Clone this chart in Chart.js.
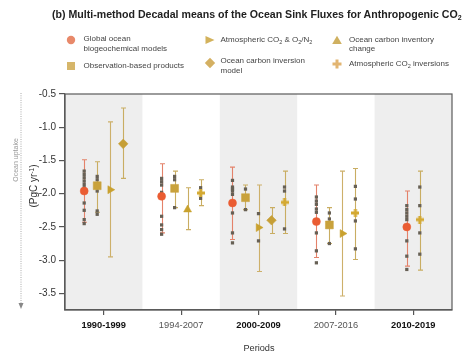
<!DOCTYPE html>
<html><head><meta charset="utf-8">
<script src="https://cdn.jsdelivr.net/npm/chart.js@4.4.1/dist/chart.umd.min.js"></script>
<style>
html,body{margin:0;padding:0;background:#fff;}
#wrap{position:relative;width:474px;height:357px;font-family:"Liberation Sans",Arial,sans-serif;overflow:hidden;}
#c{position:absolute;left:0;top:0;}
.t{position:absolute;white-space:nowrap;color:#333;}
.lg{position:absolute;white-space:nowrap;font-size:8px;line-height:9.5px;color:#444;}
.lg sub{font-size:5.5px;vertical-align:-1.5px;line-height:0;}
.mk{position:absolute;width:12px;height:12px;}
.rot{position:absolute;white-space:nowrap;transform:translate(-50%,-50%) rotate(-90deg);}
</style></head><body>
<div id="wrap">
<canvas id="c" width="474" height="357"></canvas>
<div class="t" style="left:52px;top:8px;font-weight:bold;font-size:10.6px;color:#222;">(b) Multi-method Decadal means of the Ocean Sink Fluxes for Anthropogenic CO<sub style="font-size:7px;vertical-align:-2px;line-height:0;">2</sub></div>

<svg class="mk" style="left:65px;top:34px" viewBox="0 0 12 12"><circle cx="6" cy="6" r="4.2" fill="#e8896a"/></svg>
<div class="lg" style="left:83.5px;top:34.3px">Global ocean<br>biogeochemical models</div>
<svg class="mk" style="left:65px;top:59.7px" viewBox="0 0 12 12"><rect x="2" y="2" width="8" height="8" fill="#d6b66a"/></svg>
<div class="lg" style="left:83.5px;top:61px">Observation-based products</div>

<svg class="mk" style="left:204px;top:34px" viewBox="0 0 12 12"><polygon points="1.5,2 10.5,6 1.5,10" fill="#d3b25c"/></svg>
<div class="lg" style="left:220.5px;top:35.3px">Atmospheric CO<sub>2</sub> &amp; O<sub>2</sub>/N<sub>2</sub></div>
<svg class="mk" style="left:204px;top:56.7px" viewBox="0 0 12 12"><polygon points="6,0.8 11.2,6 6,11.2 0.8,6" fill="#d4b062"/></svg>
<div class="lg" style="left:220.5px;top:56px">Ocean carbon inversion<br>model</div>

<svg class="mk" style="left:331.3px;top:34px" viewBox="0 0 12 12"><polygon points="6,1.8 10.8,10 1.2,10" fill="#cfb060"/></svg>
<div class="lg" style="left:349px;top:34.6px">Ocean carbon inventory<br>change</div>
<svg class="mk" style="left:331px;top:58px" viewBox="0 0 12 12"><path d="M4.5 1.5h3v3h3v3h-3v3h-3v-3h-3v-3h3z" fill="#e2b572"/></svg>
<div class="lg" style="left:349px;top:59.3px">Atmospheric CO<sub>2</sub> inversions</div>

<svg style="position:absolute;left:15px;top:90px;width:12px;height:225px" viewBox="0 0 12 225">
<line x1="6" y1="3" x2="6" y2="214" stroke="#aaa" stroke-width="1" stroke-dasharray="1,1.3"/>
<polygon points="3.5,213 8.5,213 6,219" fill="#888"/>
</svg>
<div class="rot" style="left:14.5px;top:160px;font-size:7px;color:#999;">Ocean uptake</div>
<div class="rot" style="left:33px;top:186px;font-size:10px;color:#333;">(PgC yr<sup style="font-size:6.5px;vertical-align:3px;line-height:0;">-1</sup>)</div>
<div class="t" style="left:259px;top:348px;transform:translate(-50%,-50%);font-size:9.2px;color:#333;">Periods</div>
</div>

<script>
// ---------------- DATA ----------------
const periods = ['1990-1999', '1994-2007', '2000-2009', '2007-2016', '2010-2019'];
const yTicks = [-0.5, -1.0, -1.5, -2.0, -2.5, -3.0, -3.5];

// Global ocean biogeochemical models
const gobmMean = [-1.96, -2.04, -2.14, -2.42, -2.50];
const gobmLow  = [-2.43, -2.59, -2.69, -2.96, -3.09];
const gobmHigh = [-1.49, -1.55, -1.60, -1.87, -1.96];
const gobmMembers = [
  [-1.66, -1.71, -1.76, -1.81, -1.86, -1.91, -2.14, -2.25, -2.39, -2.45],
  [-1.77, -1.82, -1.87, -1.98, -2.34, -2.47, -2.54, -2.61],
  [-1.80, -1.90, -1.93, -1.96, -2.01, -2.29, -2.59, -2.74],
  [-2.05, -2.11, -2.16, -2.23, -2.28, -2.59, -2.86, -3.04],
  [-2.18, -2.24, -2.29, -2.34, -2.39, -2.71, -2.94, -3.14]
];
// Observation-based products
const obsMean = [-1.88, -1.92, -2.06, -2.47, null];
const obsLow  = [-2.28, -2.21, -2.24, -2.75, null];
const obsHigh = [-1.52, -1.66, -1.87, -2.21, null];
const obsMembers = [
  [-1.74, -1.79, -1.96, -2.26, -2.31],
  [-1.74, -1.79, -2.21],
  [-1.93, -2.24],
  [-2.29, -2.38, -2.75],
  []
];
// Atmospheric CO2 & O2/N2
const o2Mean = [-1.94, null, -2.51, -2.60, null];
const o2Low  = [-2.95, null, -3.17, -3.54, null];
const o2High = [-0.92, null, -1.87, -1.66, null];
const o2Members = [[], [], [-2.30, -2.71], [], []];
// Ocean carbon inversion model
const invModelMean = [-1.25, null, -2.40, null, null];
const invModelLow  = [-1.77, null, -2.60, null, null];
const invModelHigh = [-0.71, null, -2.21, null, null];
// Ocean carbon inventory change
const inventoryMean = [null, -2.24, null, null, null];
const inventoryLow  = [null, -2.54, null, null, null];
const inventoryHigh = [null, -1.91, null, null, null];
// Atmospheric CO2 inversions
const atmInvMean = [null, -1.99, -2.13, -2.29, -2.39];
const atmInvLow  = [null, -2.18, -2.60, -2.99, -3.15];
const atmInvHigh = [null, -1.79, -1.66, -1.62, -1.66];
const atmInvMembers = [
  [],
  [-1.91, -2.07],
  [-1.90, -1.96, -2.53],
  [-1.89, -2.08, -2.41, -2.83],
  [-1.90, -2.18, -2.59, -2.91]
];

// ---------------- STYLES ----------------
function plusImg(size, th, color) {
  const c = document.createElement('canvas');
  c.width = size; c.height = size;
  const g = c.getContext('2d');
  g.fillStyle = color;
  const m = (size - th) / 2;
  g.fillRect(m, 0, th, size);
  g.fillRect(0, m, size, th);
  return c;
}
const methods = [
  {name: 'GOBM', mean: gobmMean, low: gobmLow, high: gobmHigh, members: gobmMembers,
   color: '#ea5c32', bar: '#e4826a', style: 'circle', radius: 4, rot: 0},
  {name: 'Obs', mean: obsMean, low: obsLow, high: obsHigh, members: obsMembers,
   color: '#c9a23c', bar: '#c9ad62', style: 'rect', radius: 5.6, rot: 0},
  {name: 'O2', mean: o2Mean, low: o2Low, high: o2High, members: o2Members,
   color: '#c9a12e', bar: '#cdb06a', style: 'triangle', radius: 4.6, rot: 90},
  {name: 'InvModel', mean: invModelMean, low: invModelLow, high: invModelHigh, members: null,
   color: '#c69f36', bar: '#c9ad62', style: 'rectRot', radius: 4.8, rot: 0},
  {name: 'Inventory', mean: inventoryMean, low: inventoryLow, high: inventoryHigh, members: null,
   color: '#c9a22e', bar: '#c9ad62', style: 'triangle', radius: 4.6, rot: 0},
  {name: 'AtmInv', mean: atmInvMean, low: atmInvLow, high: atmInvHigh, members: atmInvMembers,
   color: '#d4a932', bar: '#c9ad62', style: plusImg(8, 3, '#d4a932'), radius: 4, rot: 0}
];
const SLOT = 0.168;
function xOf(m, i) {
  const present = methods.filter(mm => mm.mean[i] !== null);
  const k = present.indexOf(m);
  return i + (k - (present.length - 1) / 2) * SLOT;
}

const datasets = [];
methods.forEach(m => {
  const data = [];
  periods.forEach((p, i) => { if (m.mean[i] !== null) data.push({x: xOf(m, i), y: m.mean[i]}); });
  datasets.push({label: m.name, data, pointStyle: m.style, pointRadius: m.radius,
    pointRotation: m.rot, backgroundColor: m.color, borderColor: m.color, borderWidth: 0.5, showLine: false});
});
methods.forEach(m => {
  if (!m.members) return;
  const data = [];
  periods.forEach((p, i) => {
    if (m.mean[i] === null) return;
    m.members[i].forEach(v => data.push({x: xOf(m, i), y: v}));
  });
  datasets.push({label: m.name + ' members', data, pointStyle: 'rect', pointRadius: 2.3,
    backgroundColor: '#676055', borderColor: '#676055', borderWidth: 0, showLine: false});
});

const bandsPlugin = {
  id: 'bands',
  beforeDraw(chart) {
    const {ctx, chartArea: a, scales: {x}} = chart;
    ctx.save();
    ctx.fillStyle = '#eeeeee';
    periods.forEach((p, i) => {
      if (i % 2 !== 0) return;
      const l = x.getPixelForValue(i - 0.5), r = x.getPixelForValue(i + 0.5);
      ctx.fillRect(l, a.top, r - l, a.bottom - a.top);
    });
    ctx.restore();
  },
  beforeDatasetsDraw(chart) {
    const {ctx, scales: {x, y}} = chart;
    ctx.save();
    ctx.lineWidth = 1.1;
    methods.forEach(m => {
      ctx.strokeStyle = m.bar;
      periods.forEach((p, i) => {
        if (m.mean[i] === null) return;
        const px = Math.round(x.getPixelForValue(xOf(m, i))) + 0.5;
        const y1 = y.getPixelForValue(m.high[i]), y2 = y.getPixelForValue(m.low[i]);
        ctx.beginPath();
        ctx.moveTo(px, y1); ctx.lineTo(px, y2);
        ctx.moveTo(px - 2.5, y1); ctx.lineTo(px + 2.5, y1);
        ctx.moveTo(px - 2.5, y2); ctx.lineTo(px + 2.5, y2);
        ctx.stroke();
      });
    });
    ctx.restore();
  },
  afterDraw(chart) {
    const {ctx, chartArea: a} = chart;
    ctx.save();
    ctx.strokeStyle = '#5a5a5a';
    ctx.lineWidth = 1.2;
    ctx.strokeRect(a.left, a.top, a.right - a.left, a.bottom - a.top);
    ctx.restore();
  }
};

new Chart(document.getElementById('c'), {
  type: 'scatter',
  data: {datasets},
  options: {
    responsive: false, animation: false, devicePixelRatio: 1,
    layout: {padding: {left: 0, top: 94, right: 22, bottom: 0}},
    plugins: {legend: {display: false}, tooltip: {enabled: false}, title: {display: false}},
    scales: {
      x: {
        type: 'linear', min: -0.5, max: 4.5,
        afterBuildTicks: s => { s.ticks = periods.map((p, i) => ({value: i})); },
        afterFit: s => { s.height = 47; },
        ticks: {
          callback: v => periods[v],
          autoSkip: false, maxRotation: 0, padding: 5,
          font: c => ({family: '"Liberation Sans", Arial, sans-serif', size: 9.3, weight: c.index % 2 === 0 ? 'bold' : 'normal'}),
          color: c => c.index % 2 === 0 ? '#111' : '#555'
        },
        grid: {display: true, drawOnChartArea: false, drawTicks: true, tickLength: 5, color: '#555', lineWidth: 1.2},
        border: {display: true, color: '#5a5a5a', width: 1.2}
      },
      y: {
        type: 'linear', min: -3.75, max: -0.5,
        afterBuildTicks: s => { s.ticks = yTicks.map(v => ({value: v})); },
        afterFit: s => { s.width = 65; },
        ticks: {
          callback: v => v.toFixed(1), padding: 3,
          font: {family: '"Liberation Sans", Arial, sans-serif', size: 10},
          color: '#333'
        },
        grid: {display: true, drawOnChartArea: false, drawTicks: true, tickLength: 6, color: '#555', lineWidth: 1.2},
        border: {display: true, color: '#5a5a5a', width: 1.2}
      }
    }
  },
  plugins: [bandsPlugin]
});
</script>
</body></html>
